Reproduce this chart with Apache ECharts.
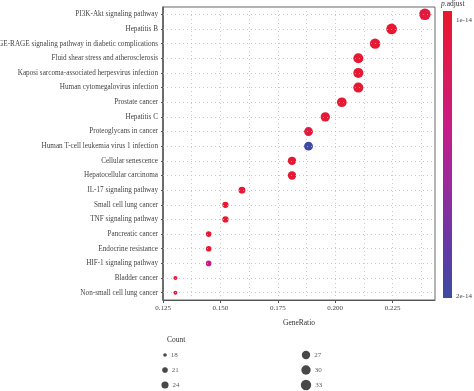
<!DOCTYPE html>
<html>
<head>
<meta charset="utf-8">
<script src="https://cdn.jsdelivr.net/npm/echarts@6/dist/echarts.min.js"></script>
<style>html,body{margin:0;padding:0;background:#fff;}#c{width:474px;height:391px;}</style>
</head>
<body>
<div id="c"></div>
<script>
const categories = [
  'PI3K-Akt signaling pathway',
  'Hepatitis B',
  'AGE-RAGE signaling pathway in diabetic complications',
  'Fluid shear stress and atherosclerosis',
  'Kaposi sarcoma-associated herpesvirus infection',
  'Human cytomegalovirus infection',
  'Prostate cancer',
  'Hepatitis C',
  'Proteoglycans in cancer',
  'Human T-cell leukemia virus 1 infection',
  'Cellular senescence',
  'Hepatocellular carcinoma',
  'IL-17 signaling pathway',
  'Small cell lung cancer',
  'TNF signaling pathway',
  'Pancreatic cancer',
  'Endocrine resistance',
  'HIF-1 signaling pathway',
  'Bladder cancer',
  'Non-small cell lung cancer'
];
const geneRatio = [0.2391, 0.2246, 0.2174, 0.2101, 0.2101, 0.2101, 0.2029, 0.1957, 0.1884, 0.1884,
                   0.1812, 0.1812, 0.1594, 0.1522, 0.1522, 0.1449, 0.1449, 0.1449, 0.1304, 0.1304];
const counts = [33, 31, 30, 29, 29, 29, 28, 27, 26, 26, 25, 25, 22, 21, 21, 20, 20, 20, 18, 18];
const pAdjust = [1.06e-14, 0.98e-14, 0.99e-14, 0.99e-14, 0.99e-14, 0.99e-14, 0.99e-14, 1.0e-14, 1.07e-14, 2.0e-14,
                 0.99e-14, 0.99e-14, 1.01e-14, 0.99e-14, 0.99e-14, 0.99e-14, 0.99e-14, 1.38e-14, 1.04e-14, 1.04e-14];
const xTicks = [0.125, 0.150, 0.175, 0.200, 0.225];
const sizeLegendCounts = [18, 21, 24, 27, 30, 33];
const colorbarTicks = [1e-14, 2e-14];

const FONT = 'Liberation Serif';
const RAMP = ['#E8182C', '#DD1A55', '#C81C86', '#9A2A9C', '#6838A4', '#3D4BA1'];
function dotSize(c) {
  return Math.sqrt(16 + (c - 18) / 15 * (132 - 16));
}
const mainData = categories.map((c, i) => [geneRatio[i], c, pAdjust[i], counts[i]]);
const legendData = sizeLegendCounts.map((c, i) => [Math.floor(i / 3), i % 3, c]);
const barGradient = new echarts.graphic.LinearGradient(0, 0, 0, 1,
  RAMP.map((c, i) => ({offset: i / (RAMP.length - 1), color: c})));

const chart = echarts.init(document.getElementById('c'), null, {renderer: 'canvas'});
chart.setOption({
  animation: false,
  backgroundColor: '#fff',
  textStyle: {fontFamily: FONT},
  title: [
    {text: 'Count', left: 162, top: 331, textStyle: {fontFamily: FONT, fontSize: 7.5, fontWeight: 'normal', color: '#333'}},
    {text: '{i|p}.adjust', left: 441, top: 0, padding: 0,
     textStyle: {fontFamily: FONT, fontSize: 7.5, fontWeight: 'normal', color: '#333',
       rich: {i: {fontFamily: FONT, fontStyle: 'italic', fontSize: 7.5, color: '#333'}}}}
  ],
  grid: [
    {left: 163, top: 7, right: 39, bottom: 91, show: true, borderColor: '#666', borderWidth: 1, outerBoundsMode: 'none', containLabel: false},
    {left: 165, top: 355, width: 141, height: 30, outerBoundsMode: 'none'},
    {left: 443, top: 11, width: 9, height: 287, show: true, borderWidth: 0, backgroundColor: barGradient, outerBoundsMode: 'none'}
  ],
  xAxis: [
    {type: 'value', gridIndex: 0, min: 0.125, max: 0.2435, interval: 0.025,
     name: 'GeneRatio', nameLocation: 'middle', nameGap: 19,
     nameTextStyle: {fontFamily: FONT, fontSize: 7.5, color: '#333'},
     axisLine: {show: true, lineStyle: {color: '#555', width: 1}},
     axisTick: {show: true, length: 3, lineStyle: {color: '#555'}},
     axisLabel: {fontFamily: FONT, fontSize: 7, color: '#444', margin: 5, showMaxLabel: false,
       formatter: v => v.toFixed(3)},
     splitLine: {show: true, lineStyle: {color: '#bbb', type: [1, 3], width: 0.8}},
     minorTick: {show: false, splitNumber: 2},
     minorSplitLine: {show: true, lineStyle: {color: '#bbb', type: [1, 3], width: 0.8}}
    },
    {type: 'value', gridIndex: 1, min: 0, max: 1, show: false},
    {type: 'value', gridIndex: 2, min: 0, max: 1, show: false}
  ],
  yAxis: [
    {type: 'category', gridIndex: 0, data: categories, inverse: true,
     axisLine: {show: true, lineStyle: {color: '#555', width: 1.5}},
     axisTick: {show: true, length: 2, alignWithLabel: true, lineStyle: {color: '#555'}},
     axisLabel: {fontFamily: FONT, fontSize: 7.2, color: '#444', margin: 5},
     splitLine: {show: false}
    },
    {type: 'value', gridIndex: 1, min: 0, max: 2, inverse: true, show: false},
    {type: 'value', gridIndex: 2, min: 0.967e-14, max: 2.007e-14, inverse: true, position: 'right',
     axisLine: {show: false},
     axisTick: {show: true, inside: true, length: 2, customValues: colorbarTicks, lineStyle: {color: '#fff', width: 1}},
     axisLabel: {show: true, customValues: colorbarTicks, fontFamily: FONT, fontSize: 7, color: '#444', margin: 4,
       formatter: v => Math.round(v * 1e14) + 'e-14'},
     splitLine: {show: false}
    }
  ],
  visualMap: {
    type: 'continuous', show: false, seriesIndex: 1, dimension: 2,
    min: 0.967e-14, max: 2.007e-14,
    inRange: {color: RAMP}
  },
  series: [
    {type: 'line', xAxisIndex: 0, yAxisIndex: 0, data: [], silent: true, z: 1,
     markLine: {silent: true, symbol: 'none', label: {show: false}, animation: false,
       lineStyle: {color: '#bbb', type: [1, 3], width: 0.8},
       data: categories.map(c => ({yAxis: c}))}},
    {type: 'scatter', xAxisIndex: 0, yAxisIndex: 0, z: 3, data: mainData,
     symbolSize: v => dotSize(v[3]), itemStyle: {opacity: 1}},
    {type: 'scatter', xAxisIndex: 1, yAxisIndex: 1, data: legendData,
     symbolSize: v => dotSize(v[2]) * 0.9, itemStyle: {color: '#1a1a1a'},
     label: {show: true, position: 'right', distance: 4, formatter: p => p.value[2],
       fontFamily: FONT, fontSize: 7, color: '#333'}}
  ]
});
</script>
</body>
</html>
